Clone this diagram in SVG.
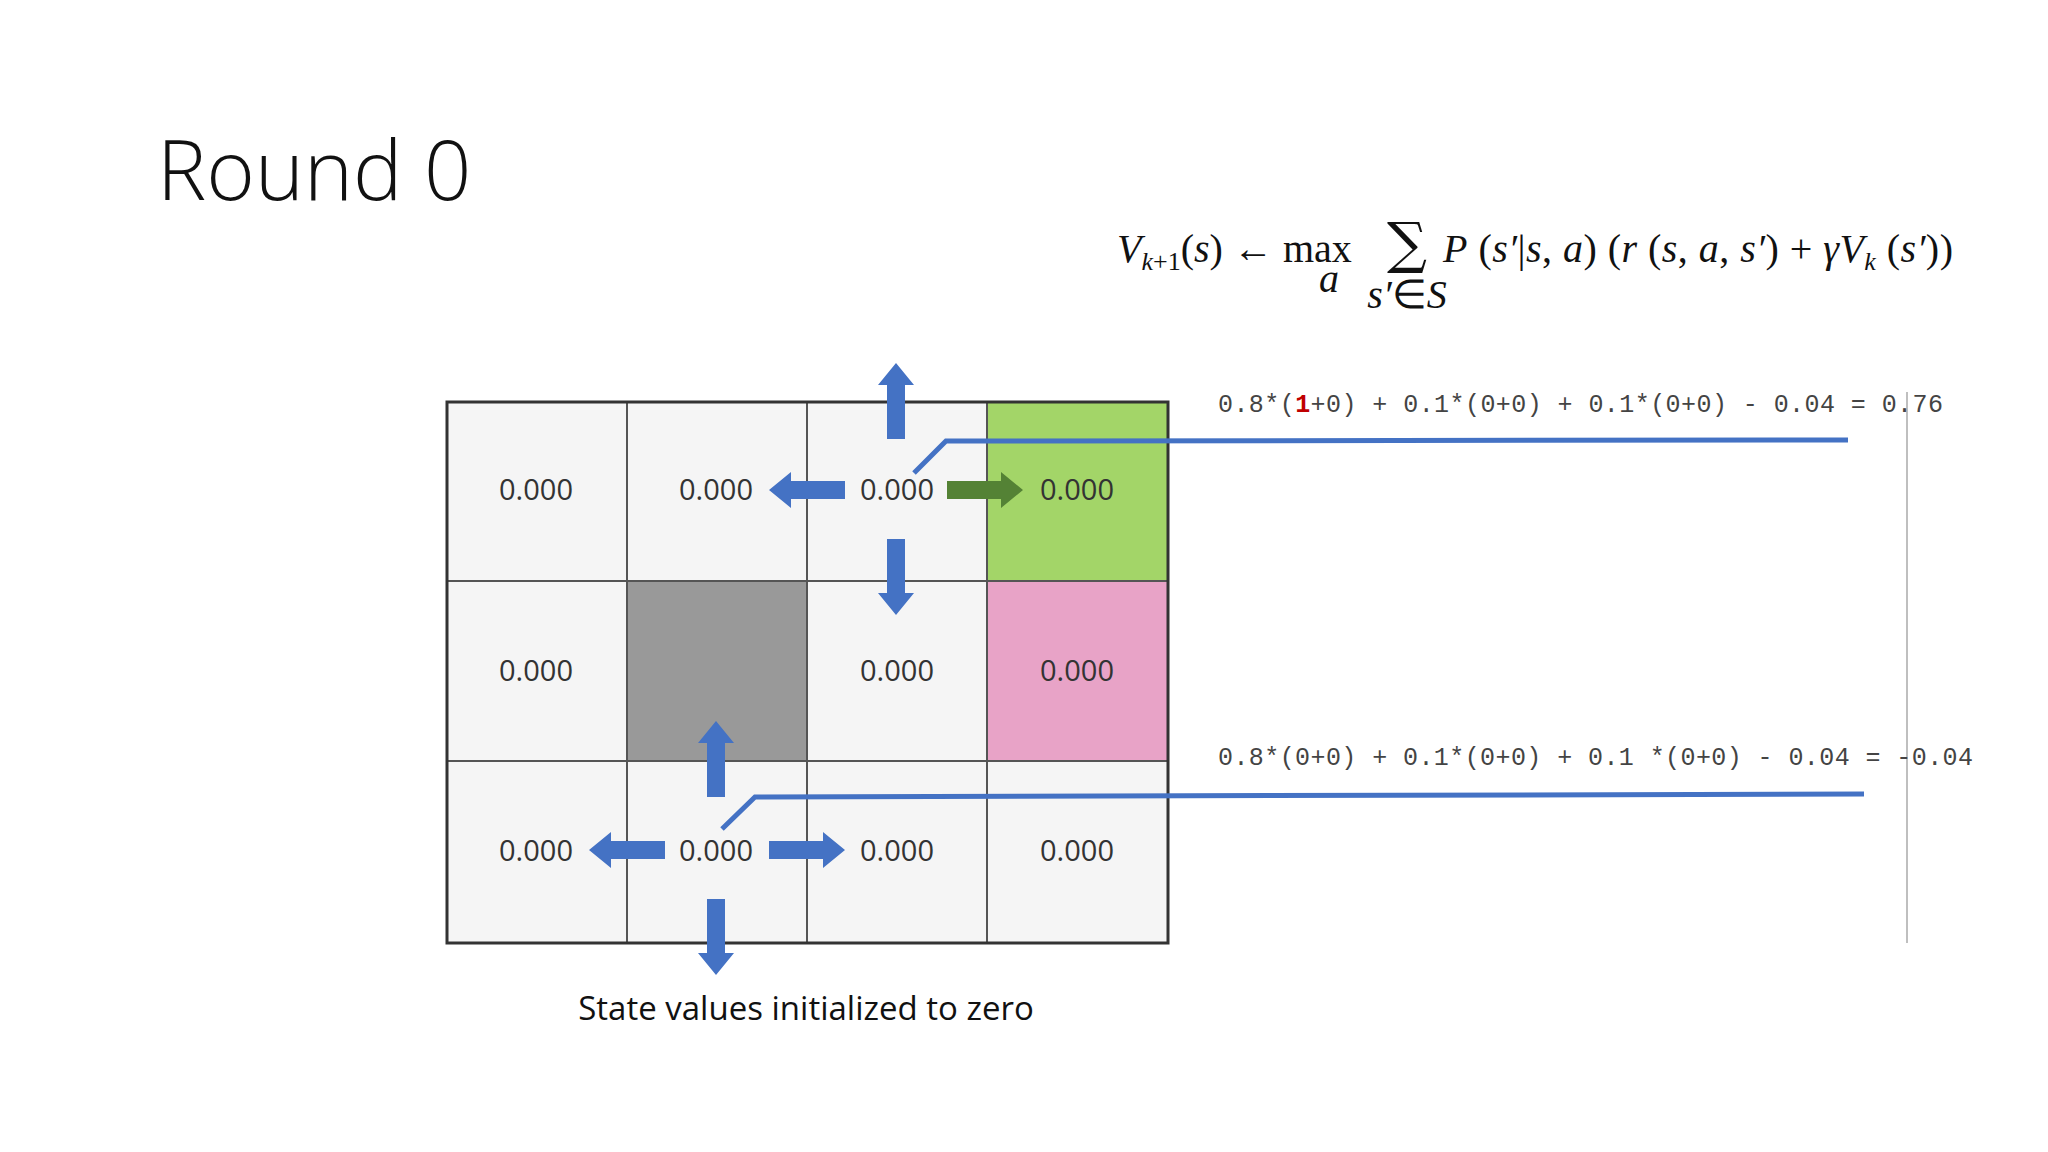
<svg xmlns="http://www.w3.org/2000/svg" width="2048" height="1152" viewBox="0 0 2048 1152">
<style>
.cell{stroke:#555;stroke-width:2}
.v{font-family:"Open Sans","Liberation Sans",sans-serif;font-size:29px;fill:#333;text-anchor:middle}
.m{font-family:"Liberation Mono",monospace;font-size:25px;fill:#444}
.f{font-family:"Liberation Serif",serif;font-size:40px;fill:#111}
.lead{fill:none;stroke:#4472c4;stroke-width:5}
</style>
<defs>
<polygon id="arr" points="0,-9 54,-9 54,-18 76,0 54,18 54,9 0,9"/>
</defs>
<rect width="2048" height="1152" fill="#fff"/>
<text x="157" y="200" font-family="Open Sans, Liberation Sans, sans-serif" font-weight="300" font-size="83" fill="#111">Round 0</text>
<text class="f" x="1117" y="262"><tspan font-style="italic">V</tspan><tspan font-size="26" dy="8" font-style="italic">k</tspan><tspan font-size="26">+1</tspan><tspan dy="-8">(</tspan><tspan font-style="italic">s</tspan>) ← max</text>
<text class="f" x="1329" y="292" font-size="24" font-style="italic" text-anchor="middle">a</text>
<text x="1407" y="262" font-family="DejaVu Serif, serif" font-size="56" fill="#111" text-anchor="middle">∑</text>
<text class="f" x="1407" y="308" font-size="24" text-anchor="middle"><tspan font-style="italic">s′</tspan>∈<tspan font-style="italic">S</tspan></text>
<text class="f" x="1443" y="262" textLength="510" lengthAdjust="spacing"><tspan font-style="italic">P</tspan> (<tspan font-style="italic">s′</tspan>|<tspan font-style="italic">s</tspan>, <tspan font-style="italic">a</tspan>) (<tspan font-style="italic">r</tspan> (<tspan font-style="italic">s</tspan>, <tspan font-style="italic">a</tspan>, <tspan font-style="italic">s′</tspan>) + <tspan font-style="italic">γV</tspan><tspan font-size="26" dy="8" font-style="italic">k</tspan><tspan dy="-8"> (</tspan><tspan font-style="italic">s′</tspan>))</text>
<g id="grid">
<rect class="cell" x="447" y="402" width="180" height="179" fill="#f5f5f5"/>
<rect class="cell" x="627" y="402" width="180" height="179" fill="#f5f5f5"/>
<rect class="cell" x="807" y="402" width="180" height="179" fill="#f5f5f5"/>
<rect class="cell" x="987" y="402" width="181" height="179" fill="#a3d568"/>
<rect class="cell" x="447" y="581" width="180" height="180" fill="#f5f5f5"/>
<rect class="cell" x="627" y="581" width="180" height="180" fill="#999"/>
<rect class="cell" x="807" y="581" width="180" height="180" fill="#f5f5f5"/>
<rect class="cell" x="987" y="581" width="181" height="180" fill="#e8a3c7"/>
<rect class="cell" x="447" y="761" width="180" height="182" fill="#f5f5f5"/>
<rect class="cell" x="627" y="761" width="180" height="182" fill="#f5f5f5"/>
<rect class="cell" x="807" y="761" width="180" height="182" fill="#f5f5f5"/>
<rect class="cell" x="987" y="761" width="181" height="182" fill="#f5f5f5"/>
<rect x="447" y="402" width="721" height="541" fill="none" stroke="#333" stroke-width="3"/>
</g>
<g id="values">
<text class="v" x="536" y="500">0.000</text><text class="v" x="716" y="500">0.000</text><text class="v" x="897" y="500">0.000</text><text class="v" x="1077" y="500">0.000</text>
<text class="v" x="536" y="681">0.000</text><text class="v" x="897" y="681">0.000</text><text class="v" x="1077" y="681">0.000</text>
<text class="v" x="536" y="861">0.000</text><text class="v" x="716" y="861">0.000</text><text class="v" x="897" y="861">0.000</text><text class="v" x="1077" y="861">0.000</text>
</g>
<g id="arrows" fill="#4472c4">
<use href="#arr" transform="translate(896,439) rotate(-90)"/>
<use href="#arr" transform="translate(845,490) rotate(180)"/>
<use href="#arr" transform="translate(947,490)" fill="#548235"/>
<use href="#arr" transform="translate(896,539) rotate(90)"/>
<use href="#arr" transform="translate(716,797) rotate(-90)"/>
<use href="#arr" transform="translate(665,850) rotate(180)"/>
<use href="#arr" transform="translate(769,850)"/>
<use href="#arr" transform="translate(716,899) rotate(90)"/>
</g>
<g id="connectors">
<polyline class="lead" points="914,473 946,441 1848,440"/>
<polyline class="lead" points="722,829 755,797 1864,794"/>
<line x1="1907" y1="392" x2="1907" y2="943" stroke="#aaa" stroke-width="1.5"/>
</g>
<text class="m" x="1218" y="412" textLength="725" lengthAdjust="spacing">0.8*(<tspan fill="#c00000" font-weight="bold">1</tspan>+0) + 0.1*(0+0) + 0.1*(0+0) - 0.04 = 0.76</text>
<text class="m" x="1218" y="765" textLength="755" lengthAdjust="spacing">0.8*(0+0) + 0.1*(0+0) + 0.1 *(0+0) - 0.04 = -0.04</text>
<text x="806" y="1020" text-anchor="middle" font-family="Open Sans, Liberation Sans, sans-serif" font-size="33" fill="#111">State values initialized to zero</text>
</svg>
